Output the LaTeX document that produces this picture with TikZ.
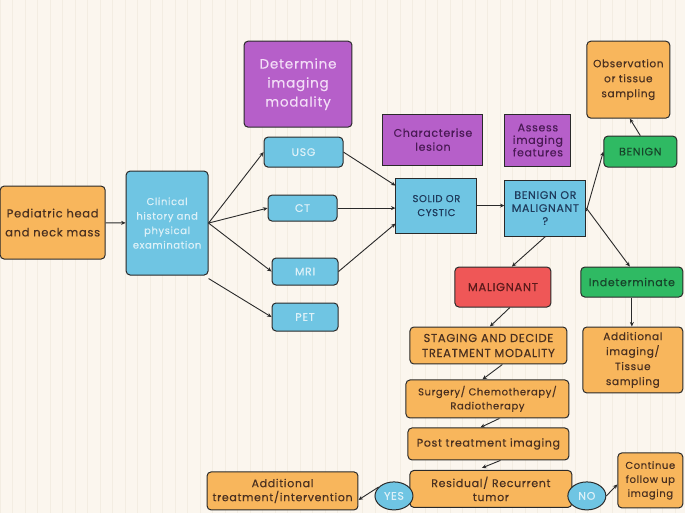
\documentclass[tikz,border=0pt]{standalone}
\usepackage{fontspec}
\setmainfont{Poppins}[LetterSpace=6, FakeBold=0.3]
\usetikzlibrary{arrows.meta,shapes.geometric}
\definecolor{paper}{HTML}{FBF6EE}
\definecolor{gridcol}{HTML}{F3EDE2}
\definecolor{boxline}{HTML}{2A2A2A}
\definecolor{orangefill}{HTML}{F8B65C}
\definecolor{orangetext}{HTML}{4A3020}
\definecolor{bluefill}{HTML}{6FC5E3}
\definecolor{bluelight}{HTML}{DDF1F8}
\definecolor{bluedark}{HTML}{1F3B5C}
\definecolor{purplefill}{HTML}{B65FC9}
\definecolor{purplelight}{HTML}{F3DDF7}
\definecolor{purpledark}{HTML}{4A1A55}
\definecolor{greenfill}{HTML}{2FBA63}
\definecolor{greendark}{HTML}{17442A}
\definecolor{redfill}{HTML}{EF5757}
\definecolor{reddark}{HTML}{5A1A1A}

\begin{document}
\begin{tikzpicture}[
    x=1pt, y=-1pt,
    every node/.style={font=\fontsize{10}{14}\selectfont},
    big/.style={font=\fontsize{11}{14}\selectfont},
    box/.style={draw=boxline, line width=1pt, rectangle, rounded corners=4pt,
                inner sep=1pt, align=center},
    flatbox/.style={box, rounded corners=0pt},
    orangebox/.style={box, fill=orangefill, text=orangetext},
    bluebox/.style={box, fill=bluefill, text=bluelight},
    bluedecide/.style={flatbox, fill=bluefill, text=bluedark},
    purplebox/.style={box, fill=purplefill, text=purplelight},
    purplenote/.style={flatbox, fill=purplefill, text=purpledark},
    greenbox/.style={box, fill=greenfill, text=greendark},
    redbox/.style={box, fill=redfill, text=reddark},
    answer/.style={draw=boxline, line width=1pt, ellipse, fill=bluefill, text=bluelight,
                   minimum width=38pt, minimum height=28pt, inner sep=0pt, big},
    arr/.style={-{Stealth[length=4.5pt,width=4pt]}, line width=0.9pt, draw=boxline}
]

% --- Background with faint grid ---
\fill[paper] (0,0) rectangle (685,513);
\draw[gridcol, line width=0.4pt, step=12.5] (0,0) grid (685,513);
\useasboundingbox (0,0) rectangle (685,513);

% --- Presentation and imaging ---
\node[orangebox, minimum width=105pt, minimum height=73pt, font=\fontsize{11.5}{19}\selectfont]
     (mass) at (52.5,222.5) {Pediatric head\\and neck mass};
\node[bluebox, minimum width=82pt, minimum height=104pt, font=\fontsize{10}{14.5}\selectfont]
     (clin) at (167,223) {Clinical\\history and\\physical\\examination};
\node[purplebox, minimum width=108pt, minimum height=86pt, font=\fontsize{13.5}{19}\selectfont]
     (modal) at (298,84) {Determine\\imaging\\modality};

\node[bluebox, big, minimum width=79pt, minimum height=30pt] (usg) at (303.5,152) {USG};
\node[bluebox, big, minimum width=69pt, minimum height=26pt] (ct)  at (302.5,208) {CT};
\node[bluebox, big, minimum width=66pt, minimum height=27pt] (mri) at (305,271.5) {MRI};
\node[bluebox, big, minimum width=66pt, minimum height=28pt] (pet) at (305,317) {PET};

% --- Lesion assessment ---
\node[purplenote, big, minimum width=100pt, minimum height=51pt] (charac) at (433,139.5) {Characterise\\lesion};
\node[bluedecide, minimum width=81pt, minimum height=55pt] (solid) at (436.5,205.5) {SOLID OR\\CYSTIC};
\node[purplenote, minimum width=66pt, minimum height=52pt, font=\fontsize{11}{12.5}\selectfont]
     (assess) at (538,140) {Assess\\imaging\\features};
\node[bluedecide, minimum width=81pt, minimum height=56pt, font=\fontsize{11}{13}\selectfont]
     (bom) at (545.5,208) {BENIGN OR\\MALIGNANT\\?};

% --- Outcomes ---
\node[orangebox, minimum width=83pt, minimum height=77pt, font=\fontsize{10.5}{15}\selectfont]
     (obs) at (628.5,79.5) {Observation\\or tissue\\sampling};
\node[greenbox, big, minimum width=73pt, minimum height=31pt] (benign) at (640.5,151.5) {BENIGN};
\node[redbox, font=\fontsize{11.5}{14}\selectfont, minimum width=96pt, minimum height=40pt] (malig) at (503,287) {MALIGNANT};
\node[greenbox, big, minimum width=102pt, minimum height=30pt] (indet) at (632,282) {Indeterminate};
\node[orangebox, minimum width=100pt, minimum height=66pt, font=\fontsize{10.5}{15}\selectfont]
     (addimg) at (633,360) {Additional\\imaging/\\Tissue\\sampling};

% --- Treatment path ---
\node[orangebox, minimum width=157pt, minimum height=37pt, font=\fontsize{11.5}{15}\selectfont]
     (staging) at (488.5,345.5) {STAGING AND DECIDE\\TREATMENT MODALITY};
\node[orangebox, minimum width=163pt, minimum height=38pt] (surg) at (487.5,399) {Surgery/ Chemotherapy/\\Radiotherapy};
\node[orangebox, big, minimum width=161pt, minimum height=32pt] (post) at (488.5,444) {Post treatment imaging};
\node[orangebox, big, minimum width=162pt, minimum height=37pt] (resid) at (491,489) {Residual/ Recurrent\\tumor};
\node[orangebox, big, minimum width=151pt, minimum height=38pt] (addtreat) at (282.5,491) {Additional\\treatment/intervention};
\node[orangebox, minimum width=65pt, minimum height=55pt] (cont) at (650.5,480.5) {Continue\\follow up\\imaging};
\node[answer] (yes) at (394,496) {YES};
\node[answer] (no)  at (587,496) {NO};

% --- Connectors ---
\draw[arr] (mass) -- (clin);
\draw[arr] (clin.east) -- (usg.west);
\draw[arr] (clin.east) -- (ct.west);
\draw[arr] (clin.east) -- (mri.west);
\draw[arr] ([yshift=-3pt]clin.south east) -- (pet.west);

\draw[arr] (usg.east) -- ([yshift=-8pt]solid.north west);
\draw[arr] (ct.east) -- (ct.east -| solid.west);
\draw[arr] (mri.east) -- ([yshift=10pt]solid.south west);
\draw[arr] (solid.east) -- (solid.east -| bom.west);

\draw[arr] ([yshift=-3pt]bom.east) -- (benign.west);
\draw[arr] (bom.east) -- ([xshift=-2pt]indet.north);
\draw[arr] (bom.south) -- ([xshift=9pt]malig.north);
\draw[arr] (benign.north) -- ([xshift=1.5pt]obs.south);
\draw[arr] (indet.south) -- (indet.south |- addimg.north);

\draw[arr] ([xshift=7pt]malig.south) -- ([xshift=1.5pt]staging.north);
\draw[arr] ([xshift=14pt]staging.south) -- ([xshift=-5pt]surg.north);
\draw[arr] ([xshift=12pt]surg.south) -- ([xshift=-8pt]post.north);
\draw[arr] ([xshift=12pt]post.south) -- ([xshift=-9pt,yshift=2pt]resid.north);
\draw[arr] (yes.150) -- ([yshift=-9pt]addtreat.east);
\draw[arr] (no.east) -- ([yshift=-4pt]cont.west);

\end{tikzpicture}
\end{document}
